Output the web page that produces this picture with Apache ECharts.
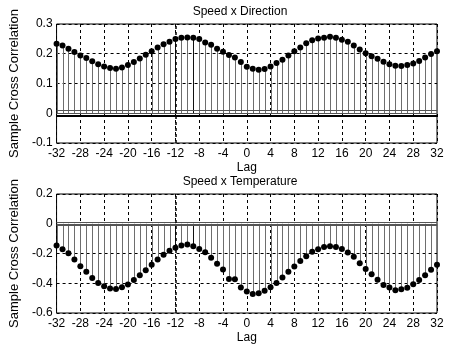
<!DOCTYPE html>
<html>
<head>
<meta charset="utf-8">
<script src="https://cdn.jsdelivr.net/npm/echarts@6/dist/echarts.min.js"></script>
<style>
html,body{margin:0;padding:0;background:#fff;}
#c{width:474px;height:347px;}
</style>
</head>
<body>
<div id="c"></div>
<script>
const lags = [-32,-31,-30,-29,-28,-27,-26,-25,-24,-23,-22,-21,-20,-19,-18,-17,-16,-15,-14,-13,-12,-11,-10,-9,-8,-7,-6,-5,-4,-3,-2,-1,0,1,2,3,4,5,6,7,8,9,10,11,12,13,14,15,16,17,18,19,20,21,22,23,24,25,26,27,28,29,30,31,32];

const speedDirection = [0.234,0.228,0.217,0.206,0.194,0.186,0.175,0.165,0.157,0.152,0.150,0.154,0.162,0.172,0.184,0.197,0.208,0.221,0.232,0.240,0.250,0.254,0.255,0.254,0.250,0.238,0.230,0.217,0.207,0.196,0.187,0.172,
0.156,0.150,0.146,0.149,0.157,0.169,0.180,0.194,0.208,0.221,0.235,0.245,0.251,0.254,0.257,0.254,0.247,0.240,0.228,0.214,0.202,0.192,0.183,0.173,0.165,0.160,0.159,0.162,0.167,0.176,0.187,0.199,0.208];

const speedTemperature = [-0.147,-0.171,-0.198,-0.240,-0.285,-0.322,-0.365,-0.398,-0.420,-0.436,-0.438,-0.427,-0.409,-0.378,-0.347,-0.313,-0.276,-0.240,-0.209,-0.182,-0.162,-0.147,-0.140,-0.151,-0.169,-0.191,-0.229,-0.269,-0.307,-0.371,-0.373,-0.429,
-0.456,-0.473,-0.467,-0.451,-0.427,-0.398,-0.362,-0.322,-0.287,-0.251,-0.218,-0.189,-0.171,-0.156,-0.151,-0.156,-0.169,-0.193,-0.222,-0.265,-0.305,-0.340,-0.376,-0.411,-0.429,-0.447,-0.440,-0.431,-0.407,-0.378,-0.347,-0.309,-0.276];

const xTicks = [-32,-28,-24,-20,-16,-12,-8,-4,0,4,8,12,16,20,24,28,32];
const topBounds = [0.014, 0.004];
const topLowerBound = -0.013;
const bottomBounds = [0.011, 0, -0.011];
const titles = ['Speed x Direction', 'Speed x Temperature'];
const darkLags = [-12, -9];

const FONT = 'Liberation Sans, Arial, sans-serif';

function pairs(vals){ return lags.map((l,i)=>[l, vals[i]]); }

function xAxisCfg(gi){
  return {
    type:'value', gridIndex:gi, min:-32, max:32, interval:4,
    name:'Lag', nameLocation:'middle', nameGap:19,
    nameTextStyle:{color:'#000', fontSize:12, fontFamily:FONT},
    axisLine:{show:false}, axisTick:{show:false},
    axisLabel:{color:'#000', fontSize:12, fontFamily:FONT, margin:5},
    splitLine:{show:true, lineStyle:{color:'#000', type:[3,3], width:1}}
  };
}
function yAxisCfg(gi, min, max, interval){
  return {
    type:'value', gridIndex:gi, min:min, max:max, interval:interval,
    name:'Sample Cross Correlation', nameLocation:'middle', nameGap:31,
    nameTextStyle:{color:'#000', fontSize:13, fontFamily:FONT},
    axisLine:{show:false}, axisTick:{show:false},
    axisLabel:{color:'#000', fontSize:12, fontFamily:FONT, margin:4},
    splitLine:{show:true, lineStyle:{color:'#000', type:[3,3], width:1}}
  };
}

function stemSeries(gi, vals, hlines){
  return {
    type:'custom', xAxisIndex:gi, yAxisIndex:gi,
    data: pairs(vals),
    renderItem:function(params, api){
      const x = api.value(0);
      const p0 = api.coord([x, 0]);
      const p1 = api.coord([x, api.value(1)]);
      const px = Math.round(p0[0]) + 0.5;
      const dark = darkLags.indexOf(x) >= 0;
      return {type:'line', shape:{x1:px, y1:p0[1], x2:px, y2:p1[1]},
        style:{stroke: dark ? '#111' : '#6e6e6e', lineWidth:1}};
    },
    markLine:{
      silent:true, symbol:'none', animation:false,
      label:{show:false},
      data: hlines
    },
    z:2
  };
}
function dotSeries(gi, vals){
  return {
    type:'scatter', xAxisIndex:gi, yAxisIndex:gi,
    data: pairs(vals), symbol:'circle', symbolSize:6,
    itemStyle:{color:'#000', opacity:1}, z:5
  };
}

const topLines = topBounds.map(v=>({yAxis:v, lineStyle:{color:'#555', width:1, type:'solid'}}))
  .concat([{yAxis:topLowerBound, lineStyle:{color:'#000', width:2, type:'solid'}},
           {xAxis:-12, lineStyle:{color:'#000', width:1.5, type:[3,3]}}]);
const botLines = bottomBounds.map(v=>({yAxis:v, lineStyle:{color:'#555', width:1, type:'solid'}}))
  .concat([{xAxis:-12, lineStyle:{color:'#000', width:1.5, type:[3,3]}}]);

const chart = echarts.init(document.getElementById('c'), null, {renderer:'canvas'});
chart.setOption({
  animation:false,
  backgroundColor:'#fff',
  grid:[
    {left:49, top:24, width:388, height:119, show:true, borderColor:'#000', borderWidth:1, backgroundColor:'transparent'},
    {left:49, top:194, width:388, height:119, show:true, borderColor:'#000', borderWidth:1, backgroundColor:'transparent'}
  ],
  xAxis:[xAxisCfg(0), xAxisCfg(1)],
  yAxis:[yAxisCfg(0,-0.1,0.3,0.1), yAxisCfg(1,-0.6,0.2,0.2)],
  graphic:[
    {type:'text', x:240, y:12, style:{text:titles[0], align:'center', verticalAlign:'middle', font:'12px '+FONT, fill:'#000'}},
    {type:'text', x:240, y:182, style:{text:titles[1], align:'center', verticalAlign:'middle', font:'12px '+FONT, fill:'#000'}}
  ],
  series:[
    stemSeries(0, speedDirection, topLines),
    dotSeries(0, speedDirection),
    stemSeries(1, speedTemperature, botLines),
    dotSeries(1, speedTemperature)
  ]
});
</script>
</body>
</html>
